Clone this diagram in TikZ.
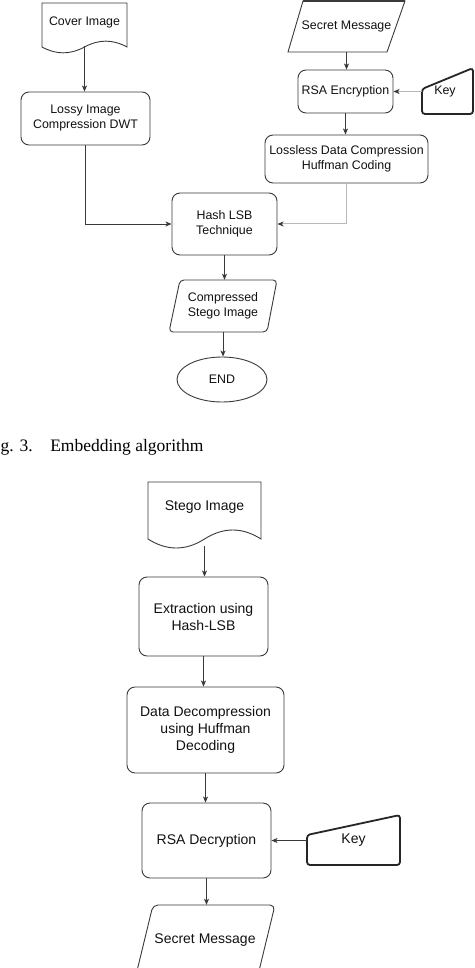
\documentclass[tikz,border=0pt]{standalone}
\usepackage{fontspec}
\setmainfont{Liberation Sans}
\newfontfamily\capfont{Liberation Serif}
\usetikzlibrary{arrows.meta,shapes.geometric,calc}
\definecolor{ln}{HTML}{3A3A3A}
\definecolor{lgray}{HTML}{B8B8B8}
\definecolor{tx}{HTML}{111111}
\begin{document}
\begin{tikzpicture}[x=1pt,y=-1pt,
  upf/.style={font=\fontsize{12.4}{15}\selectfont, text=tx, align=center},
  lof/.style={font=\fontsize{14}{17}\selectfont, text=tx, align=center},
  rbox/.style={draw=ln, line width=0.9pt, rounded corners=8pt, inner sep=0pt},
  hid/.style={inner sep=0pt},
  shp/.style={draw=ln, line width=0.9pt, fill=white},
  keyshp/.style={draw=black!85, line width=1.8pt, rounded corners=3pt, fill=white},
  arr/.style={draw=ln, line width=0.9pt, -{Stealth[length=6pt,width=5pt,inset=1.5pt]}},
  garr/.style={draw=lgray, line width=1pt, -{Stealth[length=6pt,width=5pt,inset=1.5pt,color=ln]}},
]
\useasboundingbox (0,0) rectangle (474,968);
\clip (0,0) rectangle (474,968);
\fill[white] (0,0) rectangle (474,968);

% ---------- upper diagram shapes ----------
% Cover Image (document)
\draw[shp] (42,3) -- (127,3) -- (127,47)
  .. controls (112.8,39.2) and (98.7,39.2) .. (84.5,47)
  .. controls (70.3,54.8) and (56.2,54.8) .. (42,47) -- cycle;
\node[hid, upf, minimum width=85, minimum height=38] (cover) at (84.5,22) {Cover Image};

\node[rbox, upf, minimum width=129, minimum height=53] (lossy) at (85.5,118.5) {Lossy Image\\Compression DWT};

% Secret Message (parallelogram)
\draw[shp] (303,1) -- (405,1) -- (387,52) -- (288,52) -- cycle;
\draw[draw=ln, line width=2pt] (303,1) -- (405,1);
\node[hid, upf, minimum width=117, minimum height=51] (secret1) at (346.5,26.5) {Secret Message};

\node[rbox, upf, minimum width=95, minimum height=43] (rsaenc) at (345.5,91.5) {RSA Encryption};

% Key (manual input)
\draw[keyshp] (422,89) -- (473,68) -- (473,114) -- (422,114) -- cycle;
\node[hid, upf, minimum width=46, minimum height=46] (key1) at (445,91.5) {Key};

\node[rbox, upf, minimum width=163, minimum height=48] (lossless) at (346.5,159) {Lossless Data Compression\\Huffman Coding};

\node[rbox, upf, minimum width=105, minimum height=62] (hash) at (224.5,224) {Hash LSB\\Technique};

% Compressed Stego Image (parallelogram)
\draw[shp, rounded corners=4pt] (180,280) -- (277,280) -- (267,332) -- (169,332) -- cycle;
\node[hid, upf, minimum width=108, minimum height=52] (cstego) at (223,306) {Compressed\\Stego Image};

\node[draw=ln, line width=0.9pt, ellipse, upf, inner sep=0pt, minimum width=90, minimum height=45] (endn) at (222,379.5) {END};

% upper connectors
\draw[arr, shorten <=5pt] (cover.south) -- (cover.south |- lossy.north);
\draw[arr] (lossy.south) |- (hash.west);
\draw[arr] (secret1.south) -- (secret1.south |- rsaenc.north);
\draw[garr] (key1.west) -- (rsaenc.east);
\draw[arr] (rsaenc.south) -- (rsaenc.south |- lossless.north);
\draw[garr] (lossless.south) |- (hash.east);
\draw[arr] (hash.south) -- (hash.south |- cstego.north);
\draw[arr] (cstego.south) -- (cstego.south |- endn.north);

% caption
\node[anchor=base west, inner sep=0pt, font=\capfont\fontsize{17.5}{20}\selectfont, text=black] (cap) at (0.5,451) {g. 3.\quad Embedding algorithm};

% ---------- lower diagram ----------
\draw[shp] (148,482) -- (261,482) -- (261,539)
  .. controls (242.2,527) and (223.3,527) .. (204.5,539)
  .. controls (185.7,551) and (166.8,551) .. (148,539) -- cycle;
\node[hid, lof, minimum width=113, minimum height=50] (stego) at (204.5,507) {Stego Image};

\node[rbox, lof, minimum width=129, minimum height=79] (extract) at (203.5,616.5) {Extraction using\\Hash-LSB};

\node[rbox, lof, minimum width=157, minimum height=86] (decomp) at (205.5,730) {Data Decompression\\using Huffman\\Decoding};

\node[rbox, lof, minimum width=129, minimum height=75] (rsadec) at (206.5,840.5) {RSA Decryption};

\draw[keyshp] (307,835) -- (400,815) -- (400,865) -- (307,865) -- cycle;
\node[hid, lof, minimum width=93, minimum height=50] (key2) at (353.5,840.5) {Key};

\draw[shp, rounded corners=5pt] (153,905) -- (275,905) -- (258,975) -- (136,975) -- cycle;
\node[hid, lof, minimum width=122, minimum height=70] (secret2) at (205,940) {Secret Message};

% lower connectors
\draw[arr, shorten <=14pt] (stego.south) -- (stego.south |- extract.north);
\draw[arr] (extract.south) -- (extract.south |- decomp.north);
\draw[arr] (decomp.south) -- (decomp.south |- rsadec.north);
\draw[arr] (key2.west) -- (rsadec.east);
\draw[arr] (rsadec.south) -- (rsadec.south |- secret2.north);
\end{tikzpicture}
\end{document}
